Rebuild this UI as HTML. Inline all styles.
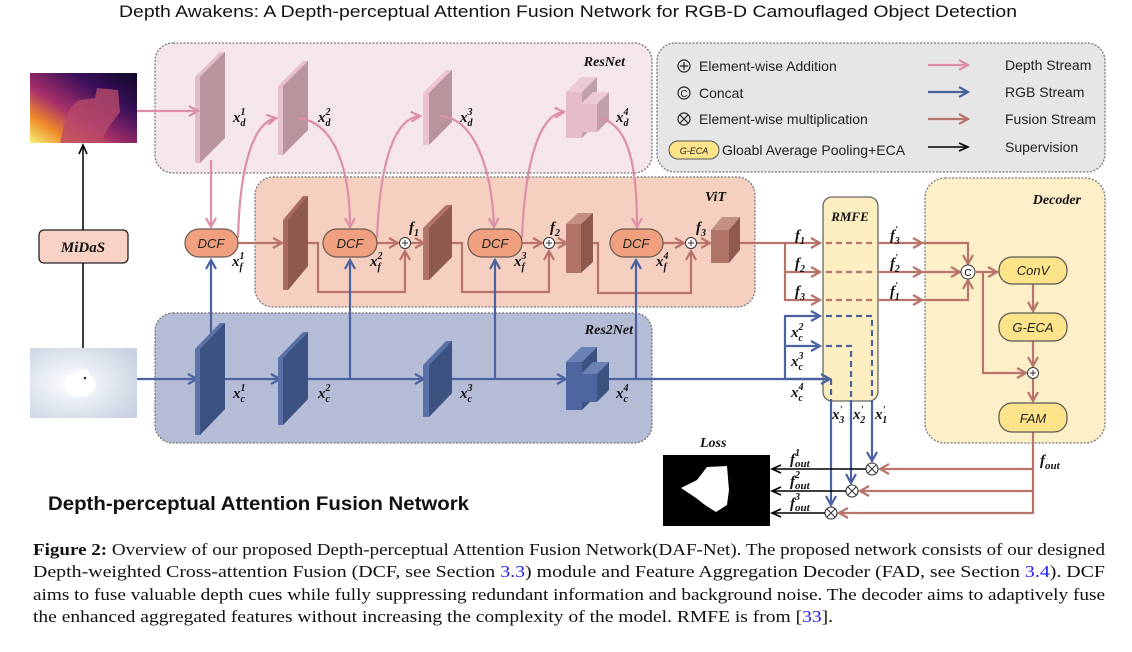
<!DOCTYPE html>
<html><head><meta charset="utf-8"><style>
body{margin:0;background:#fff;}
svg{display:block;}
.lb{font-family:"Liberation Serif",serif;font-weight:bold;font-style:italic;fill:#111;}
.sn{font-family:"Liberation Sans",sans-serif;}
</style></head><body>
<svg width="1132" height="652" viewBox="0 0 1132 652" xmlns="http://www.w3.org/2000/svg">
<defs>
<marker id="ap" markerUnits="userSpaceOnUse" markerWidth="12" markerHeight="12" refX="10" refY="6" orient="auto"><path d="M1,1 L10,6 L1,11" fill="none" stroke="#dc8fa6" stroke-width="2.2"/></marker>
<marker id="ab" markerUnits="userSpaceOnUse" markerWidth="12" markerHeight="12" refX="10" refY="6" orient="auto"><path d="M1,1 L10,6 L1,11" fill="none" stroke="#4a62a0" stroke-width="2.2"/></marker>
<marker id="af" markerUnits="userSpaceOnUse" markerWidth="12" markerHeight="12" refX="10" refY="6" orient="auto"><path d="M1,1 L10,6 L1,11" fill="none" stroke="#b8736a" stroke-width="2.2"/></marker>
<marker id="ak" markerUnits="userSpaceOnUse" markerWidth="12" markerHeight="12" refX="10" refY="6" orient="auto"><path d="M1,2 L10,6 L1,10" fill="none" stroke="#000" stroke-width="1.6"/></marker>
<linearGradient id="dg" x1="0" y1="1" x2="1" y2="0">
<stop offset="0" stop-color="#f5f27a"/><stop offset="0.2" stop-color="#f08a2a"/><stop offset="0.4" stop-color="#a8306a"/><stop offset="0.7" stop-color="#3a0f5a"/><stop offset="1" stop-color="#0d0828"/></linearGradient>
<radialGradient id="sg" cx="0.4" cy="0.5" r="0.7"><stop offset="0" stop-color="#ffffff"/><stop offset="1" stop-color="#c8d2e2"/></radialGradient>
</defs>

<!-- title -->
<text x="568" y="17" text-anchor="middle" class="sn" font-size="16.5" fill="#111" textLength="898" lengthAdjust="spacingAndGlyphs">Depth Awakens: A Depth-perceptual Attention Fusion Network for RGB-D Camouflaged Object Detection</text>

<!-- panels -->
<rect x="155" y="43" width="497" height="130" rx="18" fill="#f5e6ea" stroke="#777" stroke-width="1.3" stroke-dasharray="2,1.5"/>
<rect x="657" y="43" width="448" height="129" rx="18" fill="#e6e6e6" stroke="#777" stroke-width="1.3" stroke-dasharray="2,1.5"/>
<rect x="255" y="177" width="500" height="130" rx="18" fill="#f5cfc0" stroke="#777" stroke-width="1.3" stroke-dasharray="2,1.5"/>
<rect x="155" y="313" width="497" height="130" rx="18" fill="#b4bcd6" stroke="#777" stroke-width="1.3" stroke-dasharray="2,1.5"/>
<rect x="925" y="178" width="180" height="265" rx="20" fill="#fdf0c8" stroke="#777" stroke-width="1.3" stroke-dasharray="2,1.5"/>
<rect x="823" y="197" width="55" height="204" rx="9" fill="#fdeec2" stroke="#666" stroke-width="1.3"/>

<text x="625" y="66" text-anchor="end" class="lb" font-size="14">ResNet</text>
<text x="726" y="201" text-anchor="end" class="lb" font-size="14">ViT</text>
<text x="633" y="334" text-anchor="end" class="lb" font-size="14">Res2Net</text>
<text x="1081" y="204" text-anchor="end" class="lb" font-size="14">Decoder</text>
<text x="850" y="221" text-anchor="middle" class="lb" font-size="13">RMFE</text>

<!-- legend -->
<g class="sn" font-size="14" fill="#222">
<circle cx="684" cy="66" r="6" fill="none" stroke="#222" stroke-width="1.2"/><path d="M680,66h8M684,62v8" stroke="#222" stroke-width="1.2"/>
<text x="699" y="71">Element-wise Addition</text>
<circle cx="684" cy="93" r="6" fill="none" stroke="#222" stroke-width="1.2"/><text x="684" y="97" text-anchor="middle" font-size="10">C</text>
<text x="699" y="98">Concat</text>
<circle cx="684" cy="119" r="6" fill="none" stroke="#222" stroke-width="1.2"/><path d="M680,115l8,8M688,115l-8,8" stroke="#222" stroke-width="1.2"/>
<text x="699" y="124">Element-wise multiplication</text>
<rect x="669" y="141" width="50" height="18" rx="9" fill="#fde38a" stroke="#555"/>
<text x="694" y="154" text-anchor="middle" font-size="9" font-style="italic">G-ECA</text>
<text x="722" y="155">Gloabl Average Pooling+ECA</text>
<text x="1005" y="70">Depth Stream</text>
<text x="1005" y="97">RGB Stream</text>
<text x="1005" y="124">Fusion Stream</text>
<text x="1005" y="152">Supervision</text>
</g>
<line x1="928" y1="65" x2="968" y2="65" stroke="#dc8fa6" stroke-width="2.2" marker-end="url(#ap)"/>
<line x1="928" y1="92" x2="968" y2="92" stroke="#4a62a0" stroke-width="2.2" marker-end="url(#ab)"/>
<line x1="928" y1="119" x2="968" y2="119" stroke="#b8736a" stroke-width="2.2" marker-end="url(#af)"/>
<line x1="928" y1="147" x2="968" y2="147" stroke="#000" stroke-width="1.5" marker-end="url(#ak)"/>

<!-- images -->
<rect x="30" y="73" width="107" height="70" fill="url(#dg)"/>
<path d="M60,143 C65,120 68,105 80,100 L95,98 L97,88 L118,90 L120,112 L110,125 L100,143 Z" fill="#b84a6a" opacity="0.8"/>
<rect x="30" y="348" width="107" height="70" fill="url(#sg)"/>
<ellipse cx="80" cy="385" rx="16" ry="12" fill="#fff"/><circle cx="83" cy="375" r="6" fill="#fff"/><circle cx="85" cy="378" r="1.3" fill="#333"/>
<rect x="39" y="230" width="89" height="33" rx="5" fill="#f8d2c4" stroke="#222" stroke-width="1.3"/>
<text x="83" y="252" text-anchor="middle" class="lb" font-size="15">MiDaS</text>
<line x1="83" y1="348" x2="83" y2="263" stroke="#000" stroke-width="1.5"/>
<line x1="83" y1="230" x2="83" y2="145" stroke="#000" stroke-width="1.5" marker-end="url(#ak)"/>

<!-- depth slabs -->
<g>
<polygon points="195,77 220,52 225,52 225,138 200,163 195,163" fill="#e2bcc6"/>
<polygon points="200,77 225,52 225,138 200,163" fill="#b8949c"/>
<polygon points="278,86 303,61 308,61 308,130 283,155 278,155" fill="#e6c0ca"/>
<polygon points="283,86 308,61 308,130 283,155" fill="#b8949c"/>
<polygon points="423,93 446,70 452,70 452,122 429,145 423,145" fill="#ecc4d0"/>
<polygon points="429,93 452,70 452,122 429,145" fill="#b8949c"/>
<polygon points="566,92 581,77 597,77 582,92" fill="#eccad4"/><polygon points="582,92 597,77 597,123 582,138" fill="#c0a0aa"/><rect x="566" y="92" width="16" height="46" fill="#e6bcc8"/>
<polygon points="581,104 593,92 609,92 597,104" fill="#eccad4"/><polygon points="597,104 609,92 609,120 597,132" fill="#c0a0aa"/><rect x="581" y="104" width="16" height="28" fill="#e6bcc8"/>
</g>
<g class="lb" font-size="15">
<text x="233" y="122">x<tspan font-size="10" dy="-7">1</tspan><tspan font-size="10" dx="-5" dy="11">d</tspan></text>
<text x="318" y="122">x<tspan font-size="10" dy="-7">2</tspan><tspan font-size="10" dx="-5" dy="11">d</tspan></text>
<text x="460" y="122">x<tspan font-size="10" dy="-7">3</tspan><tspan font-size="10" dx="-5" dy="11">d</tspan></text>
<text x="616" y="122">x<tspan font-size="10" dy="-7">4</tspan><tspan font-size="10" dx="-5" dy="11">d</tspan></text>
</g>

<!-- depth arrows -->
<g fill="none" stroke="#dc8fa6" stroke-width="2.2">
<line x1="137" y1="111" x2="198" y2="111" marker-end="url(#ap)"/>
<line x1="211" y1="160" x2="211" y2="227" marker-end="url(#ap)"/>
<path d="M238,238 C240,160 255,122 276,118" marker-end="url(#ap)"/>
<path d="M298,118 C335,122 350,170 350,227" marker-end="url(#ap)"/>
<path d="M377,238 C380,160 395,118 420,116" marker-end="url(#ap)"/>
<path d="M440,116 C475,118 492,170 494,227" marker-end="url(#ap)"/>
<path d="M522,238 C525,160 540,114 564,112" marker-end="url(#ap)"/>
<path d="M600,118 C630,125 637,170 637,227" marker-end="url(#ap)"/>
</g>

<!-- fusion row -->
<g fill="none" stroke="#b8736a" stroke-width="2.2">
<line x1="238" y1="243" x2="282" y2="243" marker-end="url(#af)"/>
<path d="M302,243 H318 V292 H405 V251" marker-end="url(#af)"/>
<line x1="377" y1="243" x2="398" y2="243" marker-end="url(#af)"/>
<line x1="411" y1="243" x2="424" y2="243" marker-end="url(#af)"/>
<path d="M450,243 H462 V292 H549 V251" marker-end="url(#af)"/>
<line x1="522" y1="243" x2="542" y2="243" marker-end="url(#af)"/>
<line x1="555" y1="243" x2="567" y2="243" marker-end="url(#af)"/>
<path d="M590,243 H598 V293 H691 V251" marker-end="url(#af)"/>
<line x1="663" y1="243" x2="684" y2="243" marker-end="url(#af)"/>
<line x1="697" y1="243" x2="710" y2="243" marker-end="url(#af)"/>
</g>
<g>
<polygon points="283,220 303,196 308,196 308,266 288,290 283,290" fill="#a86a5e"/>
<polygon points="288,220 308,196 308,266 288,290" fill="#8e5a50"/>
<polygon points="423,228 446,205 452,205 452,257 429,280 423,280" fill="#b07468"/>
<polygon points="429,228 452,205 452,257 429,280" fill="#8e5a50"/>
<polygon points="566,224 578,213 593,213 581,224" fill="#c49084"/>
<polygon points="581,224 593,213 593,262 581,273" fill="#8e5a50"/>
<rect x="566" y="224" width="15" height="49" fill="#b07468"/>
<polygon points="711,230 722,217 740,217 729,230" fill="#c49084"/>
<polygon points="729,230 740,217 740,250 729,263" fill="#8e5a50"/>
<rect x="711" y="230" width="18" height="33" fill="#b07468"/>
</g>
<g fill="#f0a07e" stroke="#6a5a55" stroke-width="1.2">
<rect x="185" y="229" width="53" height="28" rx="14"/>
<rect x="323" y="229" width="54" height="28" rx="14"/>
<rect x="468" y="229" width="54" height="28" rx="14"/>
<rect x="610" y="229" width="53" height="28" rx="14"/>
</g>
<g class="sn" font-size="13" font-style="italic" fill="#222" text-anchor="middle">
<text x="211" y="248">DCF</text><text x="350" y="248">DCF</text><text x="495" y="248">DCF</text><text x="636" y="248">DCF</text>
</g>
<g fill="#fff" stroke="#333" stroke-width="1">
<circle cx="405" cy="243" r="5.5"/><circle cx="549" cy="243" r="5.5"/><circle cx="691" cy="243" r="5.5"/>
</g>
<path d="M402,243h6M405,240v6M546,243h6M549,240v6M688,243h6M691,240v6" stroke="#333" stroke-width="1"/>
<g class="lb" font-size="15">
<text x="232" y="266">x<tspan font-size="10" dy="-7">1</tspan><tspan font-size="10" dx="-5" dy="11">f</tspan></text>
<text x="370" y="266">x<tspan font-size="10" dy="-7">2</tspan><tspan font-size="10" dx="-5" dy="11">f</tspan></text>
<text x="514" y="266">x<tspan font-size="10" dy="-7">3</tspan><tspan font-size="10" dx="-5" dy="11">f</tspan></text>
<text x="656" y="266">x<tspan font-size="10" dy="-7">4</tspan><tspan font-size="10" dx="-5" dy="11">f</tspan></text>
<text x="409" y="232">f<tspan font-size="10" dy="4">1</tspan></text>
<text x="550" y="232">f<tspan font-size="10" dy="4">2</tspan></text>
<text x="696" y="232">f<tspan font-size="10" dy="4">3</tspan></text>
</g>

<!-- RGB row -->
<g fill="none" stroke="#4a62a0" stroke-width="2.2">
<line x1="137" y1="379" x2="197" y2="379" marker-end="url(#ab)"/>
<line x1="225" y1="379" x2="280" y2="379" marker-end="url(#ab)"/>
<line x1="308" y1="379" x2="424" y2="379" marker-end="url(#ab)"/>
<line x1="452" y1="379" x2="566" y2="379" marker-end="url(#ab)"/>
<line x1="211" y1="335" x2="211" y2="260" marker-end="url(#ab)"/>
<line x1="350" y1="379" x2="350" y2="260" marker-end="url(#ab)"/>
<line x1="495" y1="379" x2="495" y2="260" marker-end="url(#ab)"/>
<path d="M609,379 H636 V260" marker-end="url(#ab)"/>
<path d="M636,379 H830"/>
<path d="M785,379 V316 H820" marker-end="url(#ab)"/>
<path d="M785,346 H820" marker-end="url(#ab)"/>
<path d="M820,379" />
</g>
<line x1="785" y1="379" x2="830" y2="379" stroke="#4a62a0" stroke-width="2.2" marker-end="url(#ab)"/>
<g>
<polygon points="195,349 220,323 225,323 225,409 200,435 195,435" fill="#5a72a8"/>
<polygon points="200,349 225,323 225,409 200,435" fill="#3c5280"/>
<polygon points="278,358 303,332 308,332 308,399 283,425 278,425" fill="#5a72a8"/>
<polygon points="283,358 308,332 308,399 283,425" fill="#3c5280"/>
<polygon points="423,365 446,341 452,341 452,393 429,417 423,417" fill="#5a72a8"/>
<polygon points="429,365 452,341 452,393 429,417" fill="#3c5280"/>
<polygon points="566,362 581,347 597,347 582,362" fill="#6a82b4"/><polygon points="582,362 597,347 597,395 582,410" fill="#3c5280"/><rect x="566" y="362" width="16" height="48" fill="#4e66a0"/>
<polygon points="581,374 593,362 609,362 597,374" fill="#6a82b4"/><polygon points="597,374 609,362 609,390 597,402" fill="#3c5280"/><rect x="581" y="374" width="16" height="28" fill="#4e66a0"/>
</g>
<g class="lb" font-size="15">
<text x="233" y="398">x<tspan font-size="10" dy="-7">1</tspan><tspan font-size="10" dx="-5" dy="11">c</tspan></text>
<text x="318" y="398">x<tspan font-size="10" dy="-7">2</tspan><tspan font-size="10" dx="-5" dy="11">c</tspan></text>
<text x="460" y="398">x<tspan font-size="10" dy="-7">3</tspan><tspan font-size="10" dx="-5" dy="11">c</tspan></text>
<text x="616" y="398">x<tspan font-size="10" dy="-7">4</tspan><tspan font-size="10" dx="-5" dy="11">c</tspan></text>
<text x="791" y="337">x<tspan font-size="10" dy="-7">2</tspan><tspan font-size="10" dx="-5" dy="11">c</tspan></text>
<text x="791" y="366">x<tspan font-size="10" dy="-7">3</tspan><tspan font-size="10" dx="-5" dy="11">c</tspan></text>
<text x="791" y="397">x<tspan font-size="10" dy="-7">4</tspan><tspan font-size="10" dx="-5" dy="11">c</tspan></text>
</g>

<!-- to RMFE fusion -->
<g fill="none" stroke="#b8736a" stroke-width="2.2">
<line x1="740" y1="243" x2="820" y2="243" marker-end="url(#af)"/>
<path d="M785,243 V300 H820" marker-end="url(#af)"/>
<line x1="785" y1="272" x2="820" y2="272" marker-end="url(#af)"/>
<path d="M826,243 H876 M826,272 H876 M826,300 H876" stroke-dasharray="6,4"/>
<line x1="878" y1="243" x2="922" y2="243" marker-end="url(#af)"/>
<line x1="878" y1="272" x2="922" y2="272" marker-end="url(#af)"/>
<line x1="878" y1="300" x2="922" y2="300" marker-end="url(#af)"/>
<path d="M922,243 H968 V264" marker-end="url(#af)"/>
<line x1="922" y1="272" x2="960" y2="272" marker-end="url(#af)"/>
<path d="M922,300 H968 V280" marker-end="url(#af)"/>
<line x1="976" y1="272" x2="997" y2="272" marker-end="url(#af)"/>
<path d="M983,272 V373 H1026" marker-end="url(#af)"/>
<line x1="1033" y1="284" x2="1033" y2="311" marker-end="url(#af)"/>
<line x1="1033" y1="341" x2="1033" y2="366" marker-end="url(#af)"/>
<line x1="1033" y1="379" x2="1033" y2="401" marker-end="url(#af)"/>
<path d="M1033,432 V513 H839" marker-end="url(#af)"/>
<path d="M1033,469 H880" marker-end="url(#af)"/>
<path d="M1033,491 H860" marker-end="url(#af)"/>
</g>
<circle cx="968" cy="272" r="7" fill="#fff" stroke="#333"/><text x="968" y="276" text-anchor="middle" class="sn" font-size="10">C</text>
<circle cx="1033" cy="373" r="5.5" fill="#fff" stroke="#333"/><path d="M1030,373h6M1033,370v6" stroke="#333"/>
<g fill="#fde38a" stroke="#555" stroke-width="1.2">
<rect x="999" y="257" width="68" height="27" rx="13"/>
<rect x="999" y="313" width="68" height="28" rx="13"/>
<rect x="999" y="403" width="68" height="29" rx="13"/>
</g>
<g class="sn" font-size="13" font-style="italic" fill="#222" text-anchor="middle">
<text x="1033" y="275">ConV</text><text x="1033" y="332">G-ECA</text><text x="1033" y="423">FAM</text>
</g>
<g class="lb" font-size="15">
<text x="795" y="240">f<tspan font-size="10" dy="4">1</tspan></text>
<text x="795" y="268">f<tspan font-size="10" dy="4">2</tspan></text>
<text x="795" y="296">f<tspan font-size="10" dy="4">3</tspan></text>
<text x="890" y="240">f<tspan font-size="10" dy="-7">'</tspan><tspan font-size="10" dx="-3" dy="11">3</tspan></text>
<text x="890" y="268">f<tspan font-size="10" dy="-7">'</tspan><tspan font-size="10" dx="-3" dy="11">2</tspan></text>
<text x="890" y="296">f<tspan font-size="10" dy="-7">'</tspan><tspan font-size="10" dx="-3" dy="11">1</tspan></text>
<text x="832" y="419">x<tspan font-size="10" dy="-6">'</tspan><tspan font-size="10" dx="-3" dy="10">3</tspan></text>
<text x="853" y="419">x<tspan font-size="10" dy="-6">'</tspan><tspan font-size="10" dx="-3" dy="10">2</tspan></text>
<text x="875" y="419">x<tspan font-size="10" dy="-6">'</tspan><tspan font-size="10" dx="-3" dy="10">1</tspan></text>
<text x="1040" y="465">f<tspan font-size="11" dy="4">out</tspan></text>
<text x="790" y="464">f<tspan font-size="10" dy="-8">1</tspan><tspan font-size="11" dx="-5" dy="11">out</tspan></text>
<text x="790" y="486">f<tspan font-size="10" dy="-8">2</tspan><tspan font-size="11" dx="-5" dy="11">out</tspan></text>
<text x="790" y="508">f<tspan font-size="10" dy="-8">3</tspan><tspan font-size="11" dx="-5" dy="11">out</tspan></text>
<text x="700" y="447" font-size="14">Loss</text>
</g>

<!-- blue dashed in RMFE and outputs -->
<g fill="none" stroke="#4a62a0" stroke-width="2.2">
<path d="M826,316 H872 V400 M826,346 H851 V400 M831,379 V400" stroke-dasharray="6,4"/>
<line x1="872" y1="400" x2="872" y2="461" marker-end="url(#ab)"/>
<line x1="851" y1="400" x2="851" y2="483" marker-end="url(#ab)"/>
<line x1="831" y1="400" x2="831" y2="505" marker-end="url(#ab)"/>
</g>
<g fill="#fff" stroke="#333" stroke-width="1.1">
<circle cx="872" cy="469" r="6"/><circle cx="852" cy="491" r="6"/><circle cx="831" cy="513" r="6"/>
</g>
<path d="M868,465l8,8M876,465l-8,8M848,487l8,8M856,487l-8,8M827,509l8,8M835,509l-8,8" stroke="#333" stroke-width="1.1"/>
<g stroke="#000" stroke-width="1.6">
<line x1="866" y1="469" x2="772" y2="469" marker-end="url(#ak)"/>
<line x1="846" y1="491" x2="772" y2="491" marker-end="url(#ak)"/>
<line x1="825" y1="513" x2="772" y2="513" marker-end="url(#ak)"/>
</g>
<rect x="663" y="455" width="107" height="71" fill="#000"/>
<path d="M681,488 L697,480 L707,467 L727,466 L729,490 L727,505 L716,512 L705,505 L696,498 Z" fill="#fff"/>

<text x="48" y="510" class="sn" font-size="19" font-weight="bold" fill="#111" textLength="421" lengthAdjust="spacingAndGlyphs">Depth-perceptual Attention Fusion Network</text>

<!-- caption -->
<g font-family="Liberation Serif, serif" font-size="16.5" fill="#111">
<text x="33" y="555" textLength="1072" lengthAdjust="spacingAndGlyphs"><tspan font-weight="bold">Figure 2:</tspan> Overview of our proposed Depth-perceptual Attention Fusion Network(DAF-Net). The proposed network consists of our designed</text>
<text x="33" y="577" textLength="1072" lengthAdjust="spacingAndGlyphs">Depth-weighted Cross-attention Fusion (DCF, see Section <tspan fill="#1a1aee">3.3</tspan>) module and Feature Aggregation Decoder (FAD, see Section <tspan fill="#1a1aee">3.4</tspan>). DCF</text>
<text x="33" y="600" textLength="1072" lengthAdjust="spacingAndGlyphs">aims to fuse valuable depth cues while fully suppressing redundant information and background noise. The decoder aims to adaptively fuse</text>
<text x="33" y="622" textLength="800" lengthAdjust="spacingAndGlyphs">the enhanced aggregated features without increasing the complexity of the model. RMFE is from [<tspan fill="#1a1aee">33</tspan>].</text>
</g>
</svg>
</body></html>
